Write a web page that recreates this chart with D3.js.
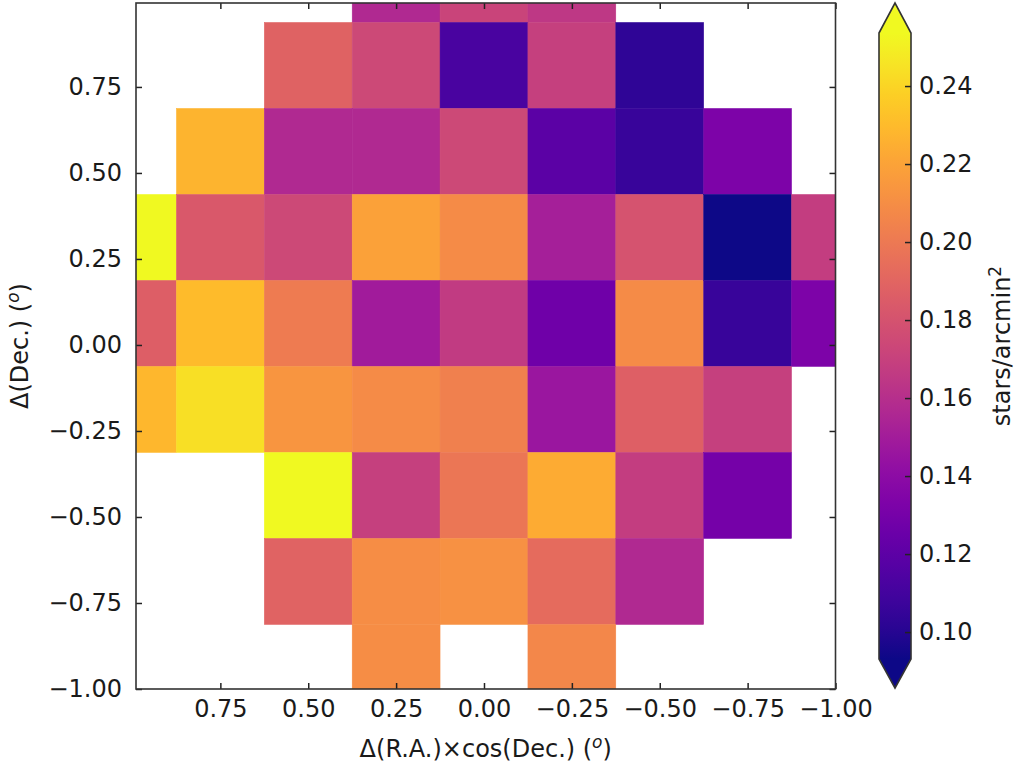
<!DOCTYPE html>
<html>
<head>
<meta charset="utf-8">
<script src="https://cdn.jsdelivr.net/npm/d3@7"></script>
<style>
  body { margin: 0; background: #fff; }
  text { font-family: "DejaVu Sans", sans-serif; fill: #1a1a1a; }
</style>
</head>
<body>
<script>
'use strict';

// cell centres (degrees); x runs from east (left) to west (right)
const raCenters = [1.0, 0.75, 0.5, 0.25, 0.0, -0.25, -0.5, -0.75, -1.0];
const decCenters = [1.0625, 0.8125, 0.5625, 0.3125, 0.0625, -0.1875, -0.4375, -0.6875, -0.9375];

// stellar density per cell, rows top -> bottom, null = no data
const densityRows = [
  [null, null, null, 0.157, 0.172, 0.165, null, null, null],
  [null, null, 0.188, 0.174, 0.112, 0.169, 0.103, null, null],
  [null, 0.227, 0.157, 0.157, 0.174, 0.119, 0.106, 0.133, null],
  [0.256, 0.183, 0.174, 0.219, 0.209, 0.151, 0.180, 0.092, 0.168],
  [0.186, 0.230, 0.201, 0.149, 0.167, 0.127, 0.209, 0.106, 0.133],
  [0.228, 0.244, 0.214, 0.209, 0.204, 0.146, 0.187, 0.169, null],
  [null, null, 0.256, 0.169, 0.199, 0.223, 0.168, 0.130, null],
  [null, null, 0.189, 0.210, 0.212, 0.193, 0.157, null, null],
  [null, null, null, 0.210, null, 0.207, null, null, null]
];

const xTicks = [0.75, 0.5, 0.25, 0.0, -0.25, -0.5, -0.75, -1.0];
const yTicks = [0.75, 0.5, 0.25, 0.0, -0.25, -0.5, -0.75, -1.0];
const cbTicks = [0.10, 0.12, 0.14, 0.16, 0.18, 0.20, 0.22, 0.24];
const vMin = 0.0931, vMax = 0.2536;
const cellSize = 0.25;

const W = 1016, H = 768;
const plot = { left: 136, right: 835.5, top: 3, bottom: 689 };
const cb = { left: 879, right: 911, top: 33, bottom: 659, tipTop: 3, tipBottom: 688 };

const svg = d3.select('body').append('svg')
  .attr('width', W)
  .attr('height', H);

const xScale = d3.scaleLinear().domain([0.99, -1.0]).range([plot.left, plot.right]);
const yScale = d3.scaleLinear().domain([-1.0, 0.994]).range([plot.bottom, plot.top]);
const color = d3.scaleSequential(d3.interpolatePlasma).domain([vMin, vMax]).clamp(true);

// flatten grid into cells
let cells = [];
densityRows.forEach((row, i) => {
  row.forEach((v, j) => {
    if (v !== null) cells.push({ ra: raCenters[j], dec: decCenters[i], value: v });
  });
});

svg.append('clipPath').attr('id', 'plotClip')
  .append('rect')
  .attr('x', plot.left).attr('y', plot.top)
  .attr('width', plot.right - plot.left).attr('height', plot.bottom - plot.top);

svg.append('g')
  .attr('clip-path', 'url(#plotClip)')
  .selectAll('rect')
  .data(cells)
  .enter()
  .append('rect')
    .attr('x', (d) => xScale(d.ra + cellSize / 2))
    .attr('y', (d) => yScale(d.dec + cellSize / 2))
    .attr('width', (d) => xScale(d.ra - cellSize / 2) - xScale(d.ra + cellSize / 2))
    .attr('height', (d) => yScale(d.dec - cellSize / 2) - yScale(d.dec + cellSize / 2))
    .attr('fill', (d) => color(d.value))
    .attr('stroke', (d) => color(d.value))
    .attr('stroke-width', 0.5);

// axes, ticks pointing inwards on all four sides
const fmt = d3.format('.2f');
const tickLen = 6;
const fontSize = '24px';
const supSize = '17px';

function styleAxis(g) {
  g.select('.domain').remove();
  g.selectAll('line').attr('stroke', '#222').attr('stroke-width', 1.5);
  g.selectAll('text').style('font-size', fontSize).attr('fill', '#1a1a1a');
}

svg.append('g')
  .attr('transform', `translate(0, ${plot.bottom})`)
  .call(d3.axisBottom(xScale).tickValues(xTicks).tickFormat(fmt).tickSizeInner(-tickLen).tickSizeOuter(0).tickPadding(11))
  .call(styleAxis);

svg.append('g')
  .attr('transform', `translate(0, ${plot.top})`)
  .call(d3.axisTop(xScale).tickValues(xTicks).tickFormat('').tickSizeInner(-tickLen).tickSizeOuter(0))
  .call(styleAxis);

svg.append('g')
  .attr('transform', `translate(${plot.left}, 0)`)
  .call(d3.axisLeft(yScale).tickValues(yTicks).tickFormat(fmt).tickSizeInner(-tickLen).tickSizeOuter(0).tickPadding(14))
  .call(styleAxis);

svg.append('g')
  .attr('transform', `translate(${plot.right}, 0)`)
  .call(d3.axisRight(yScale).tickValues(yTicks).tickFormat('').tickSizeInner(-tickLen).tickSizeOuter(0))
  .call(styleAxis);

svg.append('rect')
  .attr('x', plot.left).attr('y', plot.top)
  .attr('width', plot.right - plot.left).attr('height', plot.bottom - plot.top)
  .attr('fill', 'none')
  .attr('stroke', '#333')
  .attr('stroke-width', 1.6);

// axis labels
let xLabel = svg.append('text')
  .attr('x', (plot.left + plot.right) / 2)
  .attr('y', 757)
  .attr('text-anchor', 'middle')
  .style('font-size', fontSize);
xLabel.append('tspan').text('Δ(R.A.)×cos(Dec.) (');
xLabel.append('tspan').attr('dy', -9).style('font-size', supSize).style('font-style', 'italic').text('o');
xLabel.append('tspan').attr('dy', 9).text(')');

let yLabel = svg.append('text')
  .attr('transform', `translate(28, ${(plot.top + plot.bottom) / 2}) rotate(-90)`)
  .attr('text-anchor', 'middle')
  .style('font-size', fontSize);
yLabel.append('tspan').text('Δ(Dec.) (');
yLabel.append('tspan').attr('dy', -9).style('font-size', supSize).style('font-style', 'italic').text('o');
yLabel.append('tspan').attr('dy', 9).text(')');

// colorbar
const cbScale = d3.scaleLinear().domain([vMin, vMax]).range([cb.bottom, cb.top]);

let grad = svg.append('defs').append('linearGradient')
  .attr('id', 'cbGrad')
  .attr('x1', 0).attr('y1', 1).attr('x2', 0).attr('y2', 0);
d3.range(0, 1.0001, 0.05).forEach((t) => {
  grad.append('stop')
    .attr('offset', t)
    .attr('stop-color', d3.interpolatePlasma(t));
});

svg.append('rect')
  .attr('x', cb.left).attr('y', cb.top)
  .attr('width', cb.right - cb.left).attr('height', cb.bottom - cb.top)
  .attr('fill', 'url(#cbGrad)');

// extend triangles
const cbMid = (cb.left + cb.right) / 2;
svg.append('path')
  .attr('d', `M${cb.left},${cb.top + 0.5}L${cbMid},${cb.tipTop}L${cb.right},${cb.top + 0.5}Z`)
  .attr('fill', d3.interpolatePlasma(1));
svg.append('path')
  .attr('d', `M${cb.left},${cb.bottom - 0.5}L${cbMid},${cb.tipBottom}L${cb.right},${cb.bottom - 0.5}Z`)
  .attr('fill', d3.interpolatePlasma(0));

svg.append('path')
  .attr('d', `M${cb.left},${cb.top}L${cbMid},${cb.tipTop}L${cb.right},${cb.top}L${cb.right},${cb.bottom}L${cbMid},${cb.tipBottom}L${cb.left},${cb.bottom}Z`)
  .attr('fill', 'none')
  .attr('stroke', '#333')
  .attr('stroke-width', 1.6);

svg.append('g')
  .attr('transform', `translate(${cb.right}, 0)`)
  .call(d3.axisRight(cbScale).tickValues(cbTicks).tickFormat(fmt).tickSizeInner(-tickLen).tickSizeOuter(0).tickPadding(8))
  .call(styleAxis);

let cbLabel = svg.append('text')
  .attr('transform', `translate(1010, 346) rotate(-90)`)
  .attr('text-anchor', 'middle')
  .style('font-size', fontSize);
cbLabel.append('tspan').text('stars/arcmin');
cbLabel.append('tspan').attr('dy', -9).style('font-size', supSize).text('2');
</script>
</body>
</html>
